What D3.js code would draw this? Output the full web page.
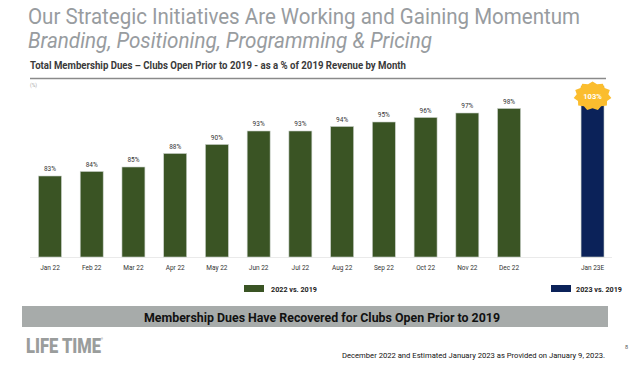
<!DOCTYPE html>
<html><head><meta charset="utf-8">
<script src="https://cdn.jsdelivr.net/npm/d3@7"></script>
<style>html,body{margin:0;padding:0;background:#fff;}svg{display:block;}</style>
</head><body>
<svg id="c" width="640" height="366"></svg>
<script>
const categories = ["Jan 22","Feb 22","Mar 22","Apr 22","May 22","Jun 22","Jul 22","Aug 22","Sep 22","Oct 22","Nov 22","Dec 22","","Jan 23E"];
const values2022 = [83,84,85,88,90,93,93,94,95,96,97,98,null,null];
const values2023 = [null,null,null,null,null,null,null,null,null,null,null,null,null,103];
const valueLabels = ["83%","84%","85%","88%","90%","93%","93%","94%","95%","96%","97%","98%","","103%"];
const seriesNames = ["2022 vs. 2019","2023 vs. 2019"];
const colors = ["#3a5424","#0b2259"];

const svg = d3.select("#c");
const F = "Roboto, 'Liberation Sans', sans-serif";

function fit(sel, w){ sel.attr("textLength", w).attr("lengthAdjust","spacingAndGlyphs"); return sel; }

fit(svg.append("text").attr("x",28).attr("y",24).attr("font-family",F).attr("font-size",21.5)
  .attr("fill","#989c9f").text("Our Strategic Initiatives Are Working and Gaining Momentum"), 552);
fit(svg.append("text").attr("x",28).attr("y",48).attr("font-family",F).attr("font-size",21.5).attr("font-style","italic")
  .attr("fill","#989c9f").text("Branding, Positioning, Programming & Pricing"), 404);
fit(svg.append("text").attr("x",30).attr("y",69).attr("font-family",F).attr("font-size",10).attr("font-weight","bold")
  .attr("fill","#3a3a3a").text("Total Membership Dues \u2013 Clubs Open Prior to 2019 - as a % of 2019 Revenue by Month"), 376);
svg.append("line").attr("x1",30).attr("x2",606).attr("y1",78.5).attr("y2",78.5).attr("stroke","#8a8a8a").attr("stroke-width",1.5);
svg.append("text").attr("x",30).attr("y",87).attr("font-family",F).attr("font-size",5).attr("fill","#aaa").text("(%)");

const x = d3.scaleBand().domain(categories).range([29.1, 613.4]).paddingInner(0.45).paddingOuter(0.225);
const y = d3.scaleLinear().domain([65, 103]).range([257, 86]);

svg.append("line").attr("x1",30).attr("x2",612).attr("y1",y(65)+0.5).attr("y2",y(65)+0.5).attr("stroke","#e4e4e4").attr("stroke-width",0.8);

const g = svg.append("g");
[values2022, values2023].forEach((vals, si) => {
  g.selectAll(null).data(categories.map((c,i)=>({c, v: vals[i], i}))).join("rect")
    .filter(d => d.v != null)
    .attr("x", d => x(d.c)).attr("width", x.bandwidth())
    .attr("y", d => y(d.v)).attr("height", d => y(65) - y(d.v))
    .attr("fill", colors[si]).attr("stroke","#c9d0c9").attr("stroke-width",0.6);
});

g.selectAll(null).data(categories.map((c,i)=>({c, v: values2022[i], t: valueLabels[i]})).filter(d=>d.v!=null))
  .join("text").attr("x", d => x(d.c) + x.bandwidth()/2).attr("y", d => y(d.v) - 5)
  .attr("text-anchor","middle").attr("font-family",F).attr("font-size",6.5).attr("fill","#333").text(d=>d.t);

const xAxis = d3.axisBottom(x).tickSize(0).tickPadding(0);
const ax = svg.append("g").attr("transform",`translate(0,${y(65)+8})`).call(xAxis);
ax.select(".domain").remove();
ax.selectAll("text").attr("font-family",F).attr("font-size",6.5).attr("fill","#333");

const bc = categories[13];
const cx = x(bc) + x.bandwidth()/2, cy = 96;
const pts = [];
const n = 11;
for (let k=0;k<2*n;k++){
  const a = -Math.PI/2 + k*Math.PI/n;
  const r = k%2===0 ? 1 : 0.84;
  pts.push([cx + Math.cos(a)*r*19, cy + Math.sin(a)*r*14.5]);
}
svg.append("polygon").attr("points", pts.map(p=>p.join(",")).join(" ")).attr("fill","#fbbd2e");
svg.append("text").attr("x",cx).attr("y",cy+2.5).attr("text-anchor","middle").attr("font-family",F)
  .attr("font-size",7.5).attr("font-weight","bold").attr("fill","#fff").text(valueLabels[13]);

const leg = [{x:244, tx:271}, {x:551, tx:576}];
seriesNames.forEach((s,i)=>{
  svg.append("rect").attr("x",leg[i].x).attr("y",285).attr("width",20).attr("height",7).attr("fill",colors[i]);
  fit(svg.append("text").attr("x",leg[i].tx).attr("y",292).attr("font-family",F).attr("font-size",7.5)
    .attr("font-weight","bold").attr("fill","#222").text(s), 46);
});

svg.append("rect").attr("x",22).attr("y",306).attr("width",586).attr("height",21).attr("fill","#a7abaa");
fit(svg.append("text").attr("x",322).attr("y",321.5).attr("text-anchor","middle").attr("font-family",F).attr("font-size",13)
  .attr("font-weight","bold").attr("fill","#111").text("Membership Dues Have Recovered for Clubs Open Prior to 2019"), 356);

const logo = svg.append("text").attr("x",26).attr("y",353).attr("font-family",F).attr("font-weight","900").attr("fill","#9a9d9c");
logo.append("tspan").attr("font-size",20).text("LIFE TIME");
logo.append("tspan").attr("font-size",3).attr("dy",-13).text("\u00ae");
fit(logo, 77);
fit(svg.append("text").attr("x",342).attr("y",358).attr("font-family",F).attr("font-size",7.5)
  .attr("fill","#111").text("December 2022 and Estimated  January 2023 as Provided on January 9, 2023."), 263);
svg.append("text").attr("x",625).attr("y",349).attr("font-family",F).attr("font-size",5.5).attr("fill","#555").text("8");
</script>
</body></html>
